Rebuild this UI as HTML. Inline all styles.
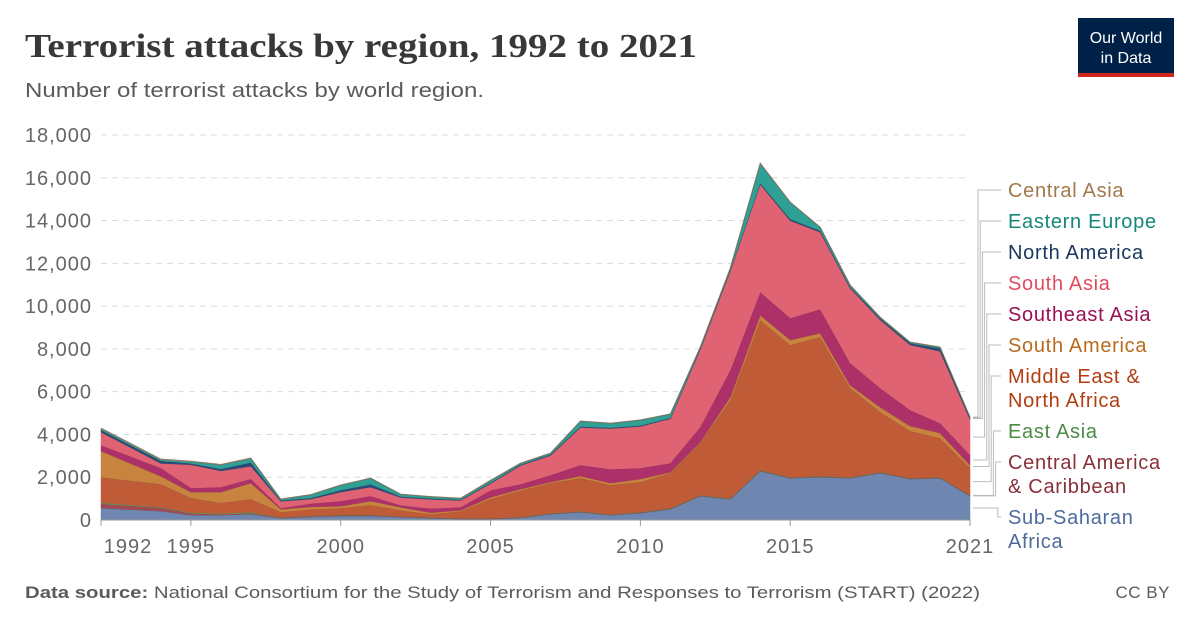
<!DOCTYPE html>
<html><head><meta charset="utf-8"><style>
body{margin:0;background:#fff;width:1200px;height:627px;overflow:hidden;font-family:"Liberation Sans",sans-serif}
</style></head><body>
<svg id="c" width="1200" height="627" xmlns="http://www.w3.org/2000/svg">
<text x="25" y="57" font-family="Liberation Serif, serif" font-weight="bold" font-size="34" fill="#383838" textLength="672" lengthAdjust="spacingAndGlyphs">Terrorist attacks by region, 1992 to 2021</text>
<text x="25" y="97" font-size="20" fill="#5b5b5b" textLength="459" lengthAdjust="spacingAndGlyphs">Number of terrorist attacks by world region.</text>
<g>
<rect x="1078" y="18" width="96" height="59" fill="#002147"/>
<rect x="1078" y="73" width="96" height="4" fill="#ce261e"/>
<text x="1126" y="43" font-size="16" fill="#fff" text-anchor="middle">Our World</text>
<text x="1126" y="63" font-size="16" fill="#fff" text-anchor="middle">in Data</text>
</g>
<g id="grid"></g><g id="areas"></g><g id="axes"></g><g id="legend"></g>
<text x="25" y="598" font-size="17" fill="#5b5b5b" textLength="955" lengthAdjust="spacingAndGlyphs"><tspan font-weight="bold">Data source:</tspan> National Consortium for the Study of Terrorism and Responses to Terrorism (START) (2022)</text>
<text x="1170" y="598" font-size="17" fill="#5b5b5b" text-anchor="end" letter-spacing="0.5">CC BY</text>
</svg>
<script>
const years=[1992,1994,1995,1996,1997,1998,1999,2000,2001,2002,2003,2004,2005,2006,2007,2008,2009,2010,2011,2012,2013,2014,2015,2016,2017,2018,2019,2020,2021];
const subSaharanAfrica=[560,420,230,230,280,90,150,190,190,140,90,50,50,100,280,370,230,330,510,1120,980,2290,1960,2010,1960,2200,1920,1960,1120];
const centralAmerica=[200,150,80,40,40,20,30,30,30,20,20,20,20,20,20,20,20,20,20,20,20,20,20,20,20,20,20,20,20];
const eastAsia=[50,30,40,40,50,10,20,20,20,10,10,10,10,20,20,20,20,20,20,20,20,20,20,20,20,20,20,20,20];
const middleEast=[1190,1080,680,490,610,250,300,320,460,290,150,330,910,1240,1410,1550,1370,1410,1650,2440,4590,7020,6180,6510,4170,2810,2200,1830,1270];
const southAmerica=[1230,370,280,510,750,140,120,90,190,140,80,50,80,70,50,100,90,140,40,50,140,230,240,180,140,230,240,240,140];
const southeastAsia=[270,380,190,230,190,50,150,240,230,90,190,140,320,230,320,510,650,510,420,700,1260,1080,1020,1120,1030,890,740,460,470];
const southAsia=[610,220,1090,760,600,320,210,420,420,370,430,320,320,870,920,1760,1900,1950,2080,3630,4640,5040,4560,3600,3500,3190,3050,3360,1670];
const northAmerica=[100,120,60,90,170,40,50,90,130,40,40,30,40,40,40,40,40,40,40,40,40,60,70,70,60,70,80,140,70];
const easternEurope=[60,50,80,190,190,50,150,230,280,100,80,60,100,60,60,250,200,250,170,60,80,900,780,150,80,50,40,50,30];
const centralAsia=[30,30,20,20,20,10,10,10,10,10,10,10,10,10,10,10,10,10,10,10,10,30,20,20,10,10,10,10,10];
const yTicks=[0,2000,4000,6000,8000,10000,12000,14000,16000,18000];
const yTickLabels=["0","2,000","4,000","6,000","8,000","10,000","12,000","14,000","16,000","18,000"];
const xTicks=[1992,1995,2000,2005,2010,2015,2021];

const series=[
 {n:"Sub-Saharan Africa",d:subSaharanAfrica,f:"#6f87b0",s:"#4c6a9c",lab:["Sub-Saharan","Africa"],ly:517},
 {n:"Central America & Caribbean",d:centralAmerica,f:"#a04a55",s:"#883039",lab:["Central America","& Caribbean"],ly:462},
 {n:"East Asia",d:eastAsia,f:"#6a9a5a",s:"#4c8b46",lab:["East Asia"],ly:431},
 {n:"Middle East & North Africa",d:middleEast,f:"#c05b38",s:"#b43c12",lab:["Middle East &","North Africa"],ly:376},
 {n:"South America",d:southAmerica,f:"#c8843e",s:"#b86b1e",lab:["South America"],ly:345},
 {n:"Southeast Asia",d:southeastAsia,f:"#ae3069",s:"#9a0f55",lab:["Southeast Asia"],ly:314},
 {n:"South Asia",d:southAsia,f:"#e06373",s:"#e04a5e",lab:["South Asia"],ly:283},
 {n:"North America",d:northAmerica,f:"#2a4a78",s:"#18375f",lab:["North America"],ly:252},
 {n:"Eastern Europe",d:easternEurope,f:"#2fa095",s:"#14887a",lab:["Eastern Europe"],ly:221},
 {n:"Central Asia",d:centralAsia,f:"#b89068",s:"#a2784c",lab:["Central Asia"],ly:190}
];
const X0=101,X1=970,Y0=520,Y1=135;
const xs=y=>X0+(y-1992)*(X1-X0)/(2021-1992);
const ys=v=>Y0-v*(Y0-Y1)/18000;
const NS="http://www.w3.org/2000/svg";
function mk(t,a,p){const e=document.createElementNS(NS,t);for(const k in a)e.setAttribute(k,a[k]);p.appendChild(e);return e;}
const G=document.getElementById('grid'),A=document.getElementById('areas'),AX=document.getElementById('axes'),L=document.getElementById('legend');
yTicks.forEach((t,i)=>{
 if(t>0){const l=mk('line',{x1:X0,x2:X1,y1:ys(t),y2:ys(t),stroke:'#dcdcdc','stroke-dasharray':'6,5'},G);
 
 }
 const tx=mk('text',{x:92,y:ys(t)+7,'font-size':20,fill:'#666','text-anchor':'end','letter-spacing':1},AX);tx.textContent=yTickLabels[i];
 
 
});
const base=years.map(()=>0);
const tops=[];
series.forEach(s=>{
 const lo=base.slice();const hi=base.map((b,i)=>b+s.d[i]);
 tops.push({lo,hi});
 let p=years.map((y,i)=>xs(y)+','+ys(hi[i])).join(' L');
 p='M'+p+' L'+years.slice().reverse().map((y,j)=>{const i=years.length-1-j;return xs(y)+','+ys(lo[i]);}).join(' L')+' Z';
 const e=mk('path',{d:p,fill:s.f,stroke:s.f,'stroke-width':0.5},A);
 
 
 const ln=mk('path',{d:'M'+years.map((y,i)=>xs(y)+','+ys(hi[i])).join(' L'),fill:'none',stroke:'rgba(60,60,60,0.35)','stroke-width':1},A);
 
 
 hi.forEach((v,i)=>base[i]=v);
});
mk('line',{x1:X0,x2:X1,y1:Y0,y2:Y0,stroke:'#999'},AX);
xTicks.forEach(t=>{
 mk('line',{x1:xs(t),x2:xs(t),y1:Y0,y2:Y0+6,stroke:'#999'},AX);
 let cx=xs(t);if(t===1992)cx=128;
 const tx=mk('text',{x:cx,y:Y0+33,'font-size':20,fill:'#666','text-anchor':'middle','letter-spacing':1},AX);tx.textContent=t;
 
 
});
const last=years.length-1;
series.forEach((s,k)=>{
 const mid=ys((tops[k].lo[last]+tops[k].hi[last])/2);
 const ex=978+ (9-k)*2.2;
 const ly=s.ly;
 const pl=mk('polyline',{points:`${X1+3},${mid} ${ex},${mid} ${ex},${ly} 1001,${ly}`,fill:'none',stroke:'#bbb','stroke-width':1},L);
 
 
 const t=mk('text',{x:1008,y:ly+7,'font-size':20,fill:s.s,'letter-spacing':0.7},L);
 
 
 s.lab.forEach((w,j)=>{const ts=mk('tspan',{x:1008,dy:j?24:0},t);ts.textContent=w;});
});
</script>
</body></html>
